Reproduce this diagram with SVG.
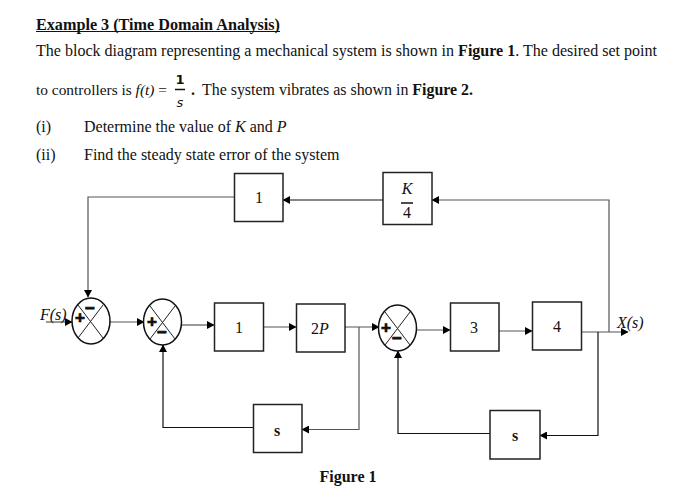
<svg xmlns="http://www.w3.org/2000/svg" width="687" height="497" viewBox="0 0 687 497">
<style>
text{font-family:"Liberation Serif","Times New Roman",serif;font-size:16px;fill:#111}
.b{font-weight:bold}.i{font-style:italic}.m{text-anchor:middle}
.box{fill:#fff;stroke:#222;stroke-width:1.5}
.sum{fill:#fff;stroke:#111;stroke-width:1.5}
.x{stroke:#222;stroke-width:1;fill:none}
.c{fill:none;stroke:#555;stroke-width:1.2}
.d{fill:none;stroke:#111;stroke-width:1.2}
.sgn{font-family:"Liberation Sans",sans-serif;font-weight:bold;font-size:17px;stroke:#000;stroke-width:.7}
</style>
<defs>
<marker id="a" markerUnits="userSpaceOnUse" markerWidth="8" markerHeight="8" refX="7" refY="4" orient="auto"><path d="M0,0L7.500,4L0,8Z" fill="#000"/></marker>
</defs>
<rect width="687" height="497" fill="#fff"/>
<g id="text-block">
<text x="36" y="30" class="b" textLength="244" lengthAdjust="spacingAndGlyphs">Example 3 (Time Domain Analysis)</text>
<line x1="36" y1="31.500" x2="280" y2="31.500" stroke="#111" stroke-width="1"/>
<text x="36" y="56" textLength="621" lengthAdjust="spacingAndGlyphs">The block diagram representing a mechanical system is shown in <tspan class="b">Figure 1</tspan>. The desired set point</text>
<text x="36" y="95" style="font-size:15.400px">to controllers is <tspan class="i">f(t) </tspan>=</text>
<text x="180" y="84" class="m" style="font-family:'DejaVu Sans',sans-serif;font-size:13px;font-weight:bold">1</text>
<line x1="175" y1="89.500" x2="185" y2="89.500" stroke="#111" stroke-width="1.500"/>
<text x="180" y="107" class="m i" style="font-family:'DejaVu Sans',sans-serif;font-size:13px">s</text>
<text x="191" y="95" class="b">.</text>
<text x="202" y="95" textLength="271" lengthAdjust="spacingAndGlyphs">The system vibrates as shown in <tspan class="b">Figure 2.</tspan></text>
<text x="36" y="132">(i)</text>
<text x="84" y="132">Determine the value of <tspan class="i">K</tspan> and <tspan class="i">P</tspan></text>
<text x="36" y="160">(ii)</text>
<text x="84" y="160">Find the steady state error of the system</text>
<text x="348" y="482" class="b m">Figure 1</text>
</g>
<g id="connectors">
<path class="c" d="M46,322H72" marker-end="url(#a)"/>
<path class="c" d="M110,322H144" marker-end="url(#a)"/>
<path class="c" d="M182,325H214" marker-end="url(#a)"/>
<path class="c" d="M263,327H296" marker-end="url(#a)"/>
<path class="c" d="M345,327H379" marker-end="url(#a)"/>
<path class="c" d="M417,330H450" marker-end="url(#a)"/>
<path class="c" d="M499,331H532" marker-end="url(#a)"/>
<path class="c" d="M581,332H628" marker-end="url(#a)"/>
<path class="c" d="M609,332V200H432" marker-end="url(#a)"/>
<path class="d" d="M383,200H283" marker-end="url(#a)"/>
<path class="c" d="M234,197H88V297" marker-end="url(#a)"/>
<path class="c" d="M359,327V429.500H302" marker-end="url(#a)"/>
<path class="d" d="M253,427.500H163V345" marker-end="url(#a)"/>
<path class="d" d="M598,332V435.500H540" marker-end="url(#a)"/>
<path class="d" d="M490,433.500H398V351" marker-end="url(#a)"/>
</g>
<g id="sum1"><ellipse class="sum" cx="91" cy="321" rx="19" ry="23"/><path class="x" d="M78,305L103,338M103,305L78,338"/><text x="80" y="323" class="sgn m">+</text><text x="90" y="314" class="sgn m">−</text></g>
<g id="sum2"><ellipse class="sum" cx="162.500" cy="322" rx="19" ry="23"/><path class="x" d="M150,306L175,339M175,306L150,339"/><text x="152" y="327" class="sgn m">+</text><text x="162" y="338" class="sgn m">−</text></g>
<g id="sum3"><ellipse class="sum" cx="397.500" cy="328" rx="19" ry="23"/><path class="x" d="M385,312L410,345M410,312L385,345"/><text x="386" y="333" class="sgn m">+</text><text x="397" y="344" class="sgn m">−</text></g>
<g id="box-gain1"><rect class="box" x="214.500" y="303" width="49" height="48"/><text x="239" y="333" class="m">1</text></g>
<g id="box-2p"><rect class="box" x="296.500" y="304" width="48.500" height="48"/><text x="320" y="334" class="m">2<tspan class="i">P</tspan></text></g>
<g id="box-3"><rect class="box" x="450.500" y="303" width="48.500" height="48"/><text x="474" y="333" class="m">3</text></g>
<g id="box-4"><rect class="box" x="532.500" y="302" width="49" height="48"/><text x="557" y="332" class="m">4</text></g>
<g id="box-top1"><rect class="box" x="234.500" y="173.500" width="48.500" height="48"/><text x="259" y="203" class="m">1</text></g>
<g id="box-k4"><rect class="box" x="383" y="172.500" width="49" height="52"/><text x="407" y="194" class="m i">K</text><line x1="401" y1="203" x2="413" y2="203" stroke="#111" stroke-width="1.500"/><text x="407" y="218" class="m">4</text></g>
<g id="box-s1"><rect class="box" x="253.500" y="404.500" width="48.500" height="48"/><text x="277" y="436" class="m b">s</text></g>
<g id="box-s2"><rect class="box" x="490" y="410.500" width="50" height="48.500"/><text x="515" y="441" class="m b">s</text></g>
<g id="labels">
<text x="40" y="320" class="i">F(s)</text>
<text x="617" y="328" class="i">X(s)</text>
</g>
</svg>
